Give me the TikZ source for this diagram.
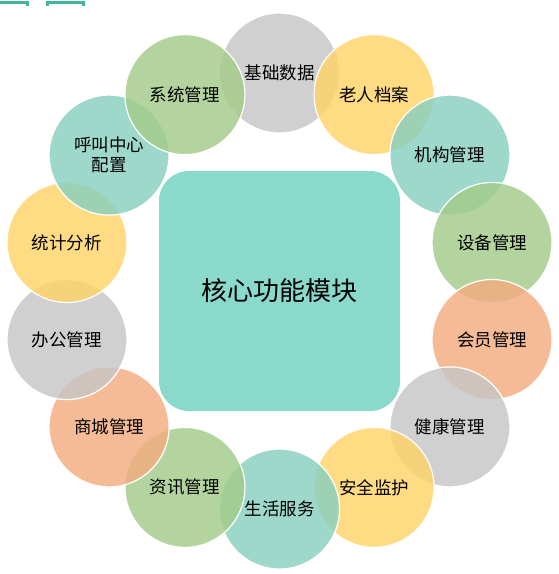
\documentclass[tikz,border=0pt]{standalone}
\usepackage{fontspec}
\setmainfont{Noto Sans CJK SC}
\usetikzlibrary{positioning}
\definecolor{grigio}{HTML}{C6C6C6}
\definecolor{giallo}{HTML}{FFD369}
\definecolor{acqua}{HTML}{88CFC0}
\definecolor{verde}{HTML}{A4CB8A}
\definecolor{salmone}{HTML}{F2AC7F}
\definecolor{nucleo}{HTML}{8ADACB}
\definecolor{titolo}{HTML}{44B39B}

\begin{document}
\begin{tikzpicture}[x=1pt, y=1pt,
		modulo/.style={circle, draw=white, line width=1.2pt, minimum size=120pt, inner sep=0pt,
			fill opacity=0.82, text opacity=1, align=center, font=\fontsize{17.5}{20}\selectfont},
		centro/.style={rectangle, rounded corners=30pt, fill=nucleo, minimum width=241pt,
			minimum height=240pt, font=\fontsize{26}{29}\selectfont}]
	\useasboundingbox (0,0) rectangle (558,-574);

	% titolo tagliato in alto
	\draw[titolo, line width=3pt] (0,-2) -- (27.5,-2) -- (27.5,-5.5);
	\draw[titolo, line width=3pt] (47.5,-5.5) -- (47.5,-2) -- (83.5,-2) -- (83.5,-5.5);

	% blocco centrale
	\node[centro] (core) at (279.5,-291) {核心功能模块};

	% moduli attorno
	\foreach \testo/\colore [count=\i from 0] in {基础数据/grigio, 老人档案/giallo, 机构管理/acqua,
		设备管理/verde, 会员管理/salmone, 健康管理/grigio, 安全监护/giallo, 生活服务/acqua,
		资讯管理/verde, 商城管理/salmone, 办公管理/grigio, 统计分析/giallo,
		{呼叫中心\\配置}/acqua, 系统管理/verde}
	{
		\pgfmathsetmacro{\ang}{90-\i*360/14}
		\node[modulo, fill=\colore] (m\i) at ([shift={(\ang:218pt)}]core.center) {\testo};
	}
\end{tikzpicture}
\end{document}
